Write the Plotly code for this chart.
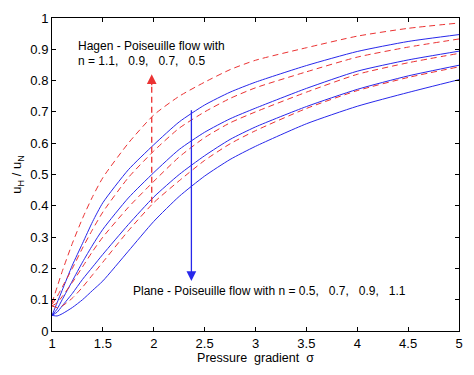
import plotly.graph_objects as go

sigma = [1.0, 1.05, 1.1, 1.2, 1.3, 1.4, 1.5, 1.75, 2.0, 2.25, 2.5, 2.75, 3.0, 3.5, 4.0, 4.5, 5.0]

# Plane - Poiseuille (solid blue), n = 0.5, 0.7, 0.9, 1.1 (top to bottom)
plane_n05 = [0.05, 0.09, 0.13, 0.21, 0.28, 0.35, 0.41, 0.515, 0.595, 0.668, 0.722, 0.763, 0.795, 0.848, 0.893, 0.925, 0.947]
plane_n07 = [0.05, 0.07, 0.10, 0.16, 0.22, 0.275, 0.325, 0.425, 0.506, 0.58, 0.635, 0.678, 0.712, 0.775, 0.83, 0.866, 0.894]
plane_n09 = [0.05, 0.06, 0.08, 0.12, 0.165, 0.205, 0.245, 0.34, 0.428, 0.50, 0.56, 0.612, 0.652, 0.717, 0.772, 0.815, 0.849]
plane_n11 = [0.05, 0.048, 0.055, 0.075, 0.10, 0.13, 0.16, 0.255, 0.35, 0.43, 0.495, 0.548, 0.59, 0.662, 0.718, 0.762, 0.803]

# Hagen - Poiseuille (dashed red), n = 0.5, 0.7, 0.9, 1.1 (top to bottom)
hagen_n05 = [0.09, 0.14, 0.19, 0.28, 0.36, 0.43, 0.49, 0.60, 0.69, 0.75, 0.795, 0.835, 0.865, 0.905, 0.942, 0.967, 0.984]
hagen_n07 = [0.085, 0.11, 0.14, 0.20, 0.265, 0.325, 0.38, 0.49, 0.575, 0.648, 0.70, 0.743, 0.777, 0.828, 0.875, 0.907, 0.933]
hagen_n09 = [0.08, 0.09, 0.11, 0.155, 0.205, 0.255, 0.30, 0.395, 0.478, 0.556, 0.618, 0.665, 0.70, 0.763, 0.82, 0.857, 0.887]
hagen_n11 = [0.08, 0.075, 0.08, 0.105, 0.14, 0.18, 0.22, 0.32, 0.41, 0.48, 0.545, 0.598, 0.64, 0.711, 0.768, 0.81, 0.844]

x_ticks = [1, 1.5, 2, 2.5, 3, 3.5, 4, 4.5, 5]
x_tick_labels = ["1", "1.5", "2", "2.5", "3", "3.5", "4", "4.5", "5"]
y_ticks = [0, 0.1, 0.2, 0.3, 0.4, 0.5, 0.6, 0.7, 0.8, 0.9, 1]
y_tick_labels = ["0", "0.1", "0.2", "0.3", "0.4", "0.5", "0.6", "0.7", "0.8", "0.9", "1"]

# arrows (data coords)
red_arrow_x, red_arrow_y0, red_arrow_y1 = 1.98, 0.41, 0.82
blue_arrow_x, blue_arrow_y0, blue_arrow_y1 = 2.37, 0.71, 0.16

NB = "\u00a0"
hagen_text_1 = "Hagen - Poiseuille flow with"
hagen_text_2 = "n = 1.1," + NB * 3 + "0.9," + NB * 3 + "0.7," + NB * 3 + "0.5"
plane_text = "Plane - Poiseuille flow with n = 0.5," + NB * 3 + "0.7," + NB * 3 + "0.9," + NB * 3 + "1.1"
x_title = "Pressure" + NB * 2 + "gradient" + NB * 2 + "σ"
y_title = "u<sub>H</sub> / u<sub>N</sub>"

BLUE = "rgb(40,40,235)"
RED = "rgb(235,50,50)"
FONT = "Liberation Sans, Arial, sans-serif"

fig = go.Figure()
for ys in [plane_n05, plane_n07, plane_n09, plane_n11]:
    fig.add_trace(go.Scatter(x=sigma, y=ys, mode="lines", line=dict(color=BLUE, width=1, shape="spline", smoothing=0.6), showlegend=False))
for ys in [hagen_n05, hagen_n07, hagen_n09, hagen_n11]:
    fig.add_trace(go.Scatter(x=sigma, y=ys, mode="lines", line=dict(color=RED, width=1, dash="6px,4px", shape="spline", smoothing=0.6), showlegend=False))

# red dashed arrow shaft
fig.add_shape(type="line", x0=red_arrow_x, x1=red_arrow_x, y0=red_arrow_y0, y1=red_arrow_y1 - 0.03,
              line=dict(color=RED, width=1.3, dash="6px,4px"))
fig.add_annotation(x=red_arrow_x, y=red_arrow_y1, ax=red_arrow_x, ay=red_arrow_y1 - 0.04,
                   axref="x", ayref="y", xref="x", yref="y", text="", showarrow=True,
                   arrowhead=2, arrowsize=1.5, arrowwidth=1.3, arrowcolor=RED)
# blue solid arrow
fig.add_annotation(x=blue_arrow_x, y=blue_arrow_y1, ax=blue_arrow_x, ay=blue_arrow_y0,
                   axref="x", ayref="y", xref="x", yref="y", text="", showarrow=True,
                   arrowhead=2, arrowsize=1.5, arrowwidth=1.3, arrowcolor=BLUE)

fig.add_annotation(x=1.234, y=0.911, xref="x", yref="y", text=hagen_text_1,
                   showarrow=False, xanchor="left", yanchor="middle", font=dict(size=12, color="black", family=FONT))
fig.add_annotation(x=1.234, y=0.863, xref="x", yref="y", text=hagen_text_2,
                   showarrow=False, xanchor="left", yanchor="middle", font=dict(size=12, color="black", family=FONT))
fig.add_annotation(x=1.776, y=0.129, xref="x", yref="y", text=plane_text,
                   showarrow=False, xanchor="left", yanchor="middle", font=dict(size=12, color="black", family=FONT))

axis_common = dict(showline=True, linecolor="black", linewidth=1, mirror="ticks", ticks="inside",
                   ticklen=4, tickcolor="black", showgrid=False, zeroline=False,
                   tickfont=dict(size=13, color="black", family=FONT))
fig.update_xaxes(range=[1, 5], tickvals=x_ticks, ticktext=x_tick_labels,
                 title=dict(text=x_title, font=dict(size=12.5, color="black", family=FONT), standoff=3),
                 **axis_common)
fig.update_yaxes(range=[0, 1], tickvals=y_ticks, ticktext=y_tick_labels,
                 title=dict(text=y_title, font=dict(size=13, color="black", family=FONT), standoff=5),
                 **axis_common)

fig.update_layout(width=474, height=375, margin=dict(l=52, r=11, t=13, b=44),
                  plot_bgcolor="white", paper_bgcolor="white", font=dict(family=FONT))
fig.write_html("out.html", config={"displayModeBar": False},
               post_script="document.body.style.margin='0';document.body.style.overflow='hidden';")
